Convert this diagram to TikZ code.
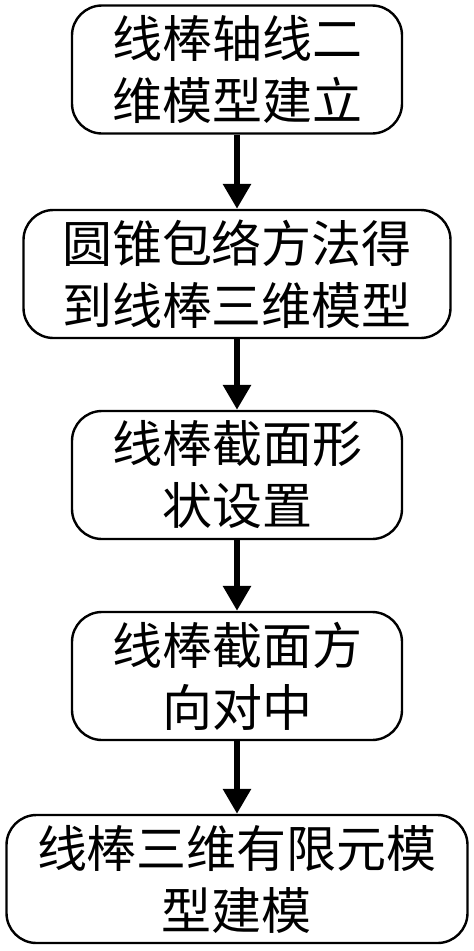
\documentclass[tikz,border=0pt]{standalone}
\usepackage{fontspec}
\setmainfont{Noto Sans CJK SC}
\usetikzlibrary{arrows.meta}

\begin{document}
\begin{tikzpicture}[x=1pt, y=-1pt,
  stage/.style={draw, line width=2.4pt, rounded corners=30pt, align=center,
    inner sep=0pt, minimum height=128pt, font=\fontsize{50}{62}\selectfont},
  flow/.style={line width=6pt, -{Triangle[width=27pt,length=25pt]}}]
\useasboundingbox (0,0) rectangle (474,951);
% steps, top to bottom
\node[stage, minimum width=330pt] (axis) at (237,69.5) {线棒轴线二\\维模型建立};
\node[stage, minimum width=427pt] (cone) at (237,274) {圆锥包络方法得\\到线棒三维模型};
\node[stage, minimum width=330pt] (shape) at (237,475) {线棒截面形\\状设置};
\node[stage, minimum width=330pt] (orient) at (237,676) {线棒截面方\\向对中};
\node[stage, minimum width=461pt] (fem) at (237,879) {线棒三维有限元模\\型建模};
% arrows
\foreach \a/\b in {axis/cone, cone/shape, shape/orient, orient/fem}
  \draw[flow] (\a) -- (\b);
\end{tikzpicture}
\end{document}
